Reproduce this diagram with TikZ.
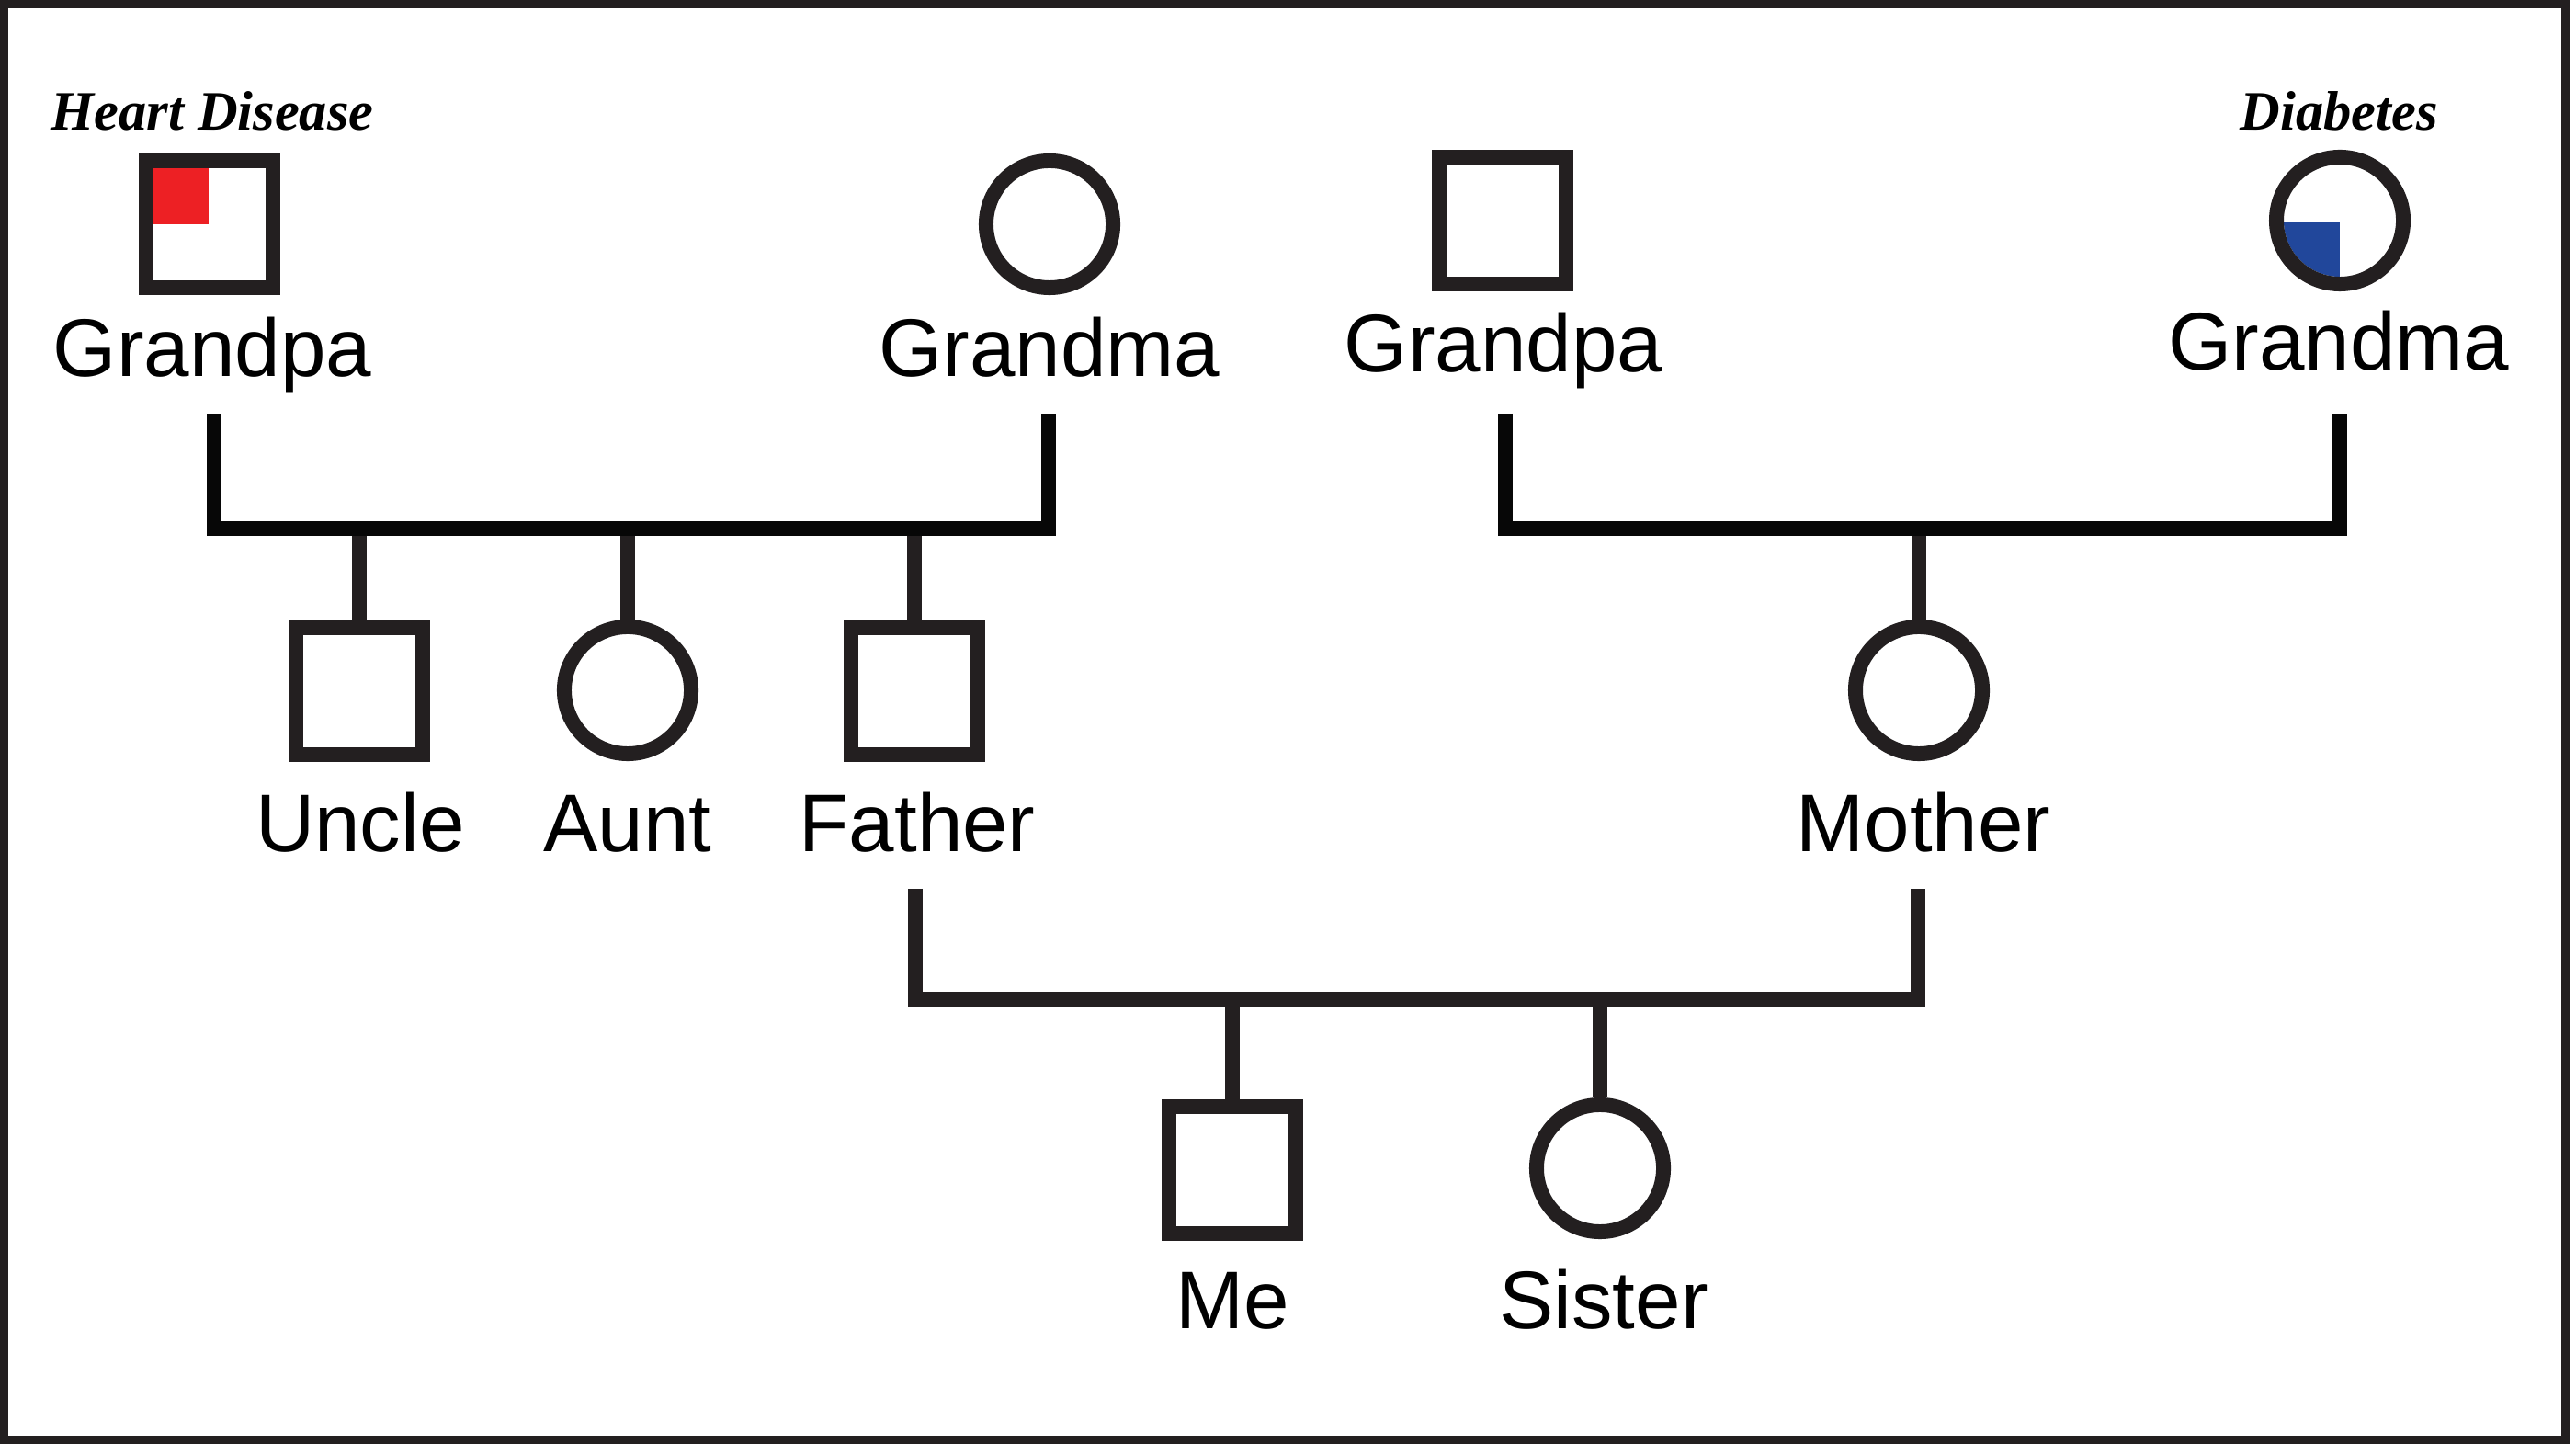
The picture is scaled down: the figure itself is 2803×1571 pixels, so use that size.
\documentclass[tikz,border=0pt]{standalone}
\usepackage{fontspec}
\setmainfont{Liberation Sans}
\newfontfamily\diseasefont{Liberation Serif}
\definecolor{ink}{HTML}{231F20}
\definecolor{deepink}{HTML}{070707}
\definecolor{heartred}{HTML}{ED2024}
\definecolor{diabblue}{HTML}{21479B}
\begin{document}
\begin{tikzpicture}[x=0.01cm,y=-0.01cm,
  male/.style={draw=ink,line width=0.16cm,rectangle,minimum size=1.38cm,inner sep=0pt},
  female/.style={draw=ink,line width=0.16cm,circle,minimum size=1.38cm,inner sep=0pt},
  lbl/.style={anchor=base,inner sep=0pt,text=black,font=\fontsize{25.3pt}{30pt}\selectfont},
  disease/.style={anchor=base,inner sep=0pt,text=black,font=\diseasefont\bfseries\itshape\fontsize{17.2pt}{20pt}\selectfont},
  rel/.style={draw=ink,line width=0.16cm,line join=miter,line cap=butt},
  couple/.style={rel,draw=deepink}]
\useasboundingbox (0,0) rectangle (2803,1571);
\fill[white] (0,0) rectangle (2803,1571);
\draw[ink,line width=0.09cm] (4.5,4.5) rectangle (2791.5,1566.5);

% affected markers
\fill[heartred] (166,183) rectangle (227,244);
\begin{scope}
  \clip (2546,240) circle[radius=0.61cm];
  \fill[diabblue] (2470,242) rectangle (2546,320);
\end{scope}

% generation I
\node[male]   (gpa1) at (228,244) {};
\node[female] (gma1) at (1142,244) {};
\node[male]   (gpa2) at (1635,240) {};
\node[female] (gma2) at (2546,240) {};
\node[disease] (hd) at (231,142) {Heart Disease};
\node[disease] (db) at (2545,142) {Diabetes};
\node[lbl] (gpa1l) at (231,410) {Grandpa};
\node[lbl] (gma1l) at (1142,410) {Grandma};
\node[lbl] (gpa2l) at (1636,405) {Grandpa};
\node[lbl] (gma2l) at (2545,403) {Grandma};

% generation II
\node[male]   (uncle)  at (391,752) {};
\node[female] (aunt)   at (683,751) {};
\node[male]   (father) at (995,752) {};
\node[female] (mother) at (2088,751) {};
\node[lbl] (unclel)  at (392,927) {Uncle};
\node[lbl] (auntl)   at (683,927) {Aunt};
\node[lbl] (fatherl) at (998,927) {Father};
\node[lbl] (motherl) at (2093,927) {Mother};

% generation III
\node[male]   (me)     at (1341,1273) {};
\node[female] (sister) at (1741,1271) {};
\node[lbl] (mel)     at (1341,1445) {Me};
\node[lbl] (sisterl) at (1745,1445) {Sister};

% connectors
\coordinate (gpa1c) at (233,450);
\coordinate (gma1c) at (1141,450);
\coordinate (bar1)  at (687,575);
\draw[rel] (uncle.north |- bar1) -- (uncle.north);
\draw[rel] (aunt.north |- bar1) -- (aunt.north);
\draw[rel] (father.north |- bar1) -- (father.north);
\draw[couple] (gpa1c) |- (bar1) -| (gma1c);

\coordinate (gpa2c) at (1638,450);
\coordinate (gma2c) at (2546,450);
\coordinate (bar2)  at (2092,575);
\draw[rel] (mother.north |- bar2) -- (mother.north);
\draw[couple] (gpa2c) |- (bar2) -| (gma2c);

\coordinate (fac) at (996,967);
\coordinate (moc) at (2087,967);
\coordinate (bar3) at (1541,1087.5);
\draw[rel] (fac) |- (bar3) -| (moc);
\draw[rel] (me.north |- bar3) -- (me.north);
\draw[rel] (sister.north |- bar3) -- (sister.north);
\end{tikzpicture}
\end{document}
